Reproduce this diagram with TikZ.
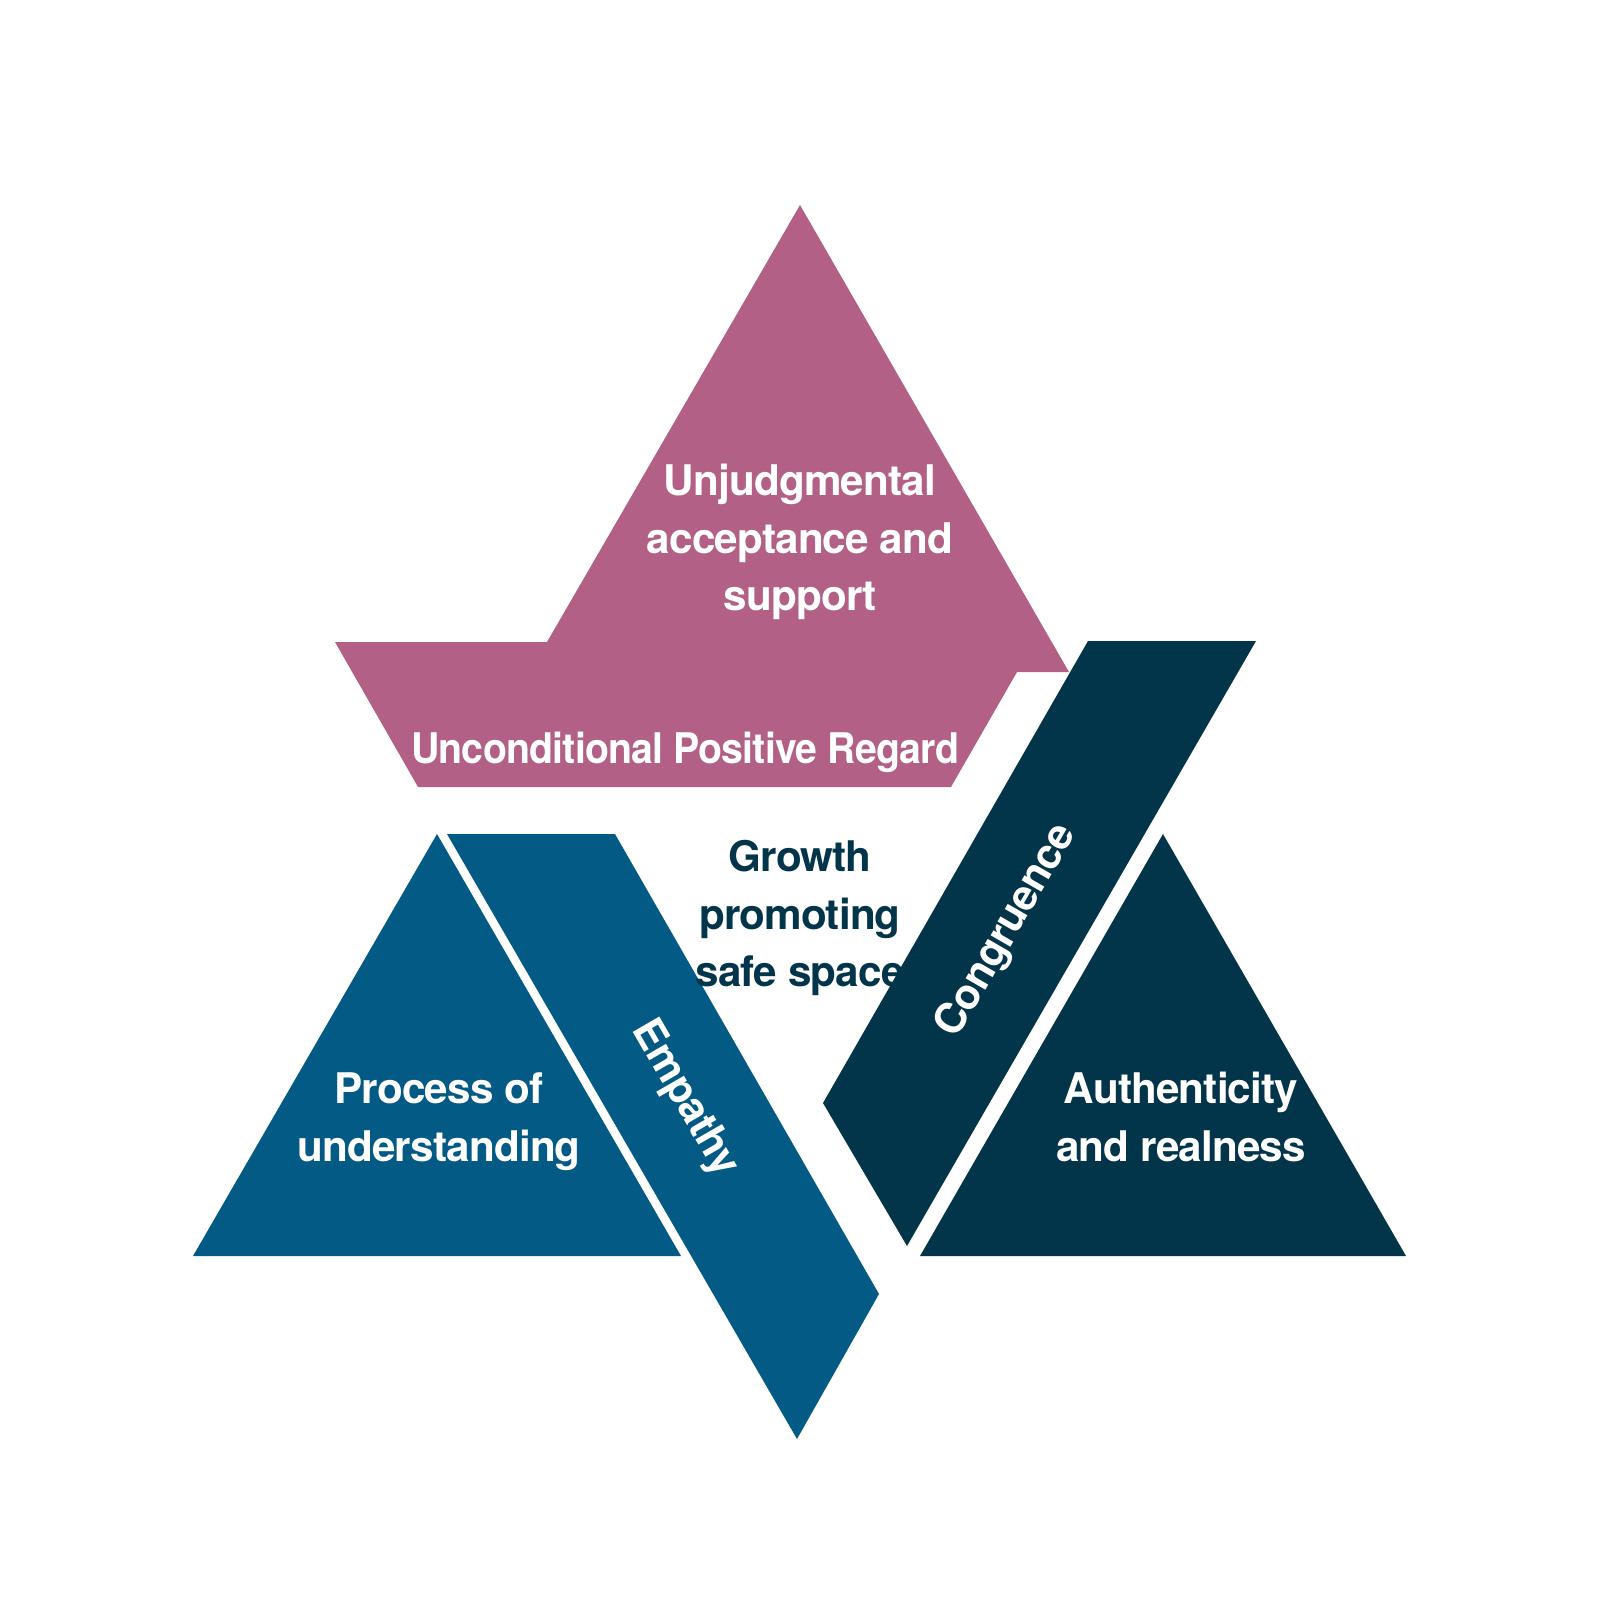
\documentclass[tikz,border=0pt]{standalone}
\usepackage{fontspec}
\setmainfont{TeX Gyre Heros}[LetterSpace=-2]
\definecolor{pinkc}{RGB}{178,96,133}
\definecolor{bluec}{RGB}{3,90,132}
\definecolor{navyc}{RGB}{2,52,74}
\begin{document}
\begin{tikzpicture}[x=0.01cm,y=-0.01cm,
  lbl/.style={text=white,font=\bfseries\fontsize{12}{16.4}\selectfont,align=center,inner sep=0pt},
  dlbl/.style={lbl,text=navyc}]
\useasboundingbox (0,0) rectangle (1600,1600);
% pink
\fill[pinkc] (800,205) -- (1069,672) -- (1017,672) -- (951,787) -- (418,787) -- (335,642) -- (547,642) -- cycle;
% blue triangle and empathy band
\fill[bluec] (437,834) -- (681,1256) -- (193,1256) -- cycle;
\fill[bluec] (447,834) -- (615,834) -- (879,1294) -- (797,1439) -- cycle;
% navy congruence band and triangle
\fill[navyc] (1088,641) -- (1256,641) -- (907,1246) -- (823,1103) -- cycle;
\fill[navyc] (1163,834) -- (1406,1256) -- (920,1256) -- cycle;
% texts
\node[lbl] (unj) at (800,542) {Unjudgmental\\acceptance and\\support};
\node[lbl,xscale=0.93,transform shape] (upr) at (685,752) {Unconditional Positive Regard};
\node[dlbl] (grow) at (800,918) {Growth\\promoting\\safe space};
\node[lbl] (proc) at (439,1122) {Process of\\understanding};
\node[lbl] (auth) at (1181,1117) {Authenticity\\and realness};
\node[lbl,rotate=-60] (emp) at (684,1099) {Empathy};
\node[lbl,rotate=60] (cong) at (1007,931) {Congruence};
\end{tikzpicture}
\end{document}
